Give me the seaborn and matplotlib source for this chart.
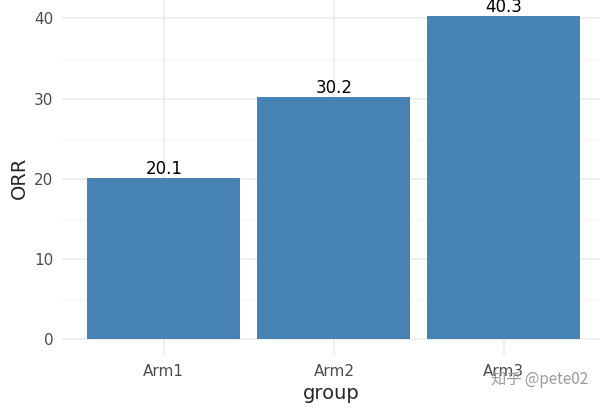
import matplotlib
matplotlib.use("Agg")
import matplotlib.pyplot as plt
import seaborn as sns
import pandas as pd

groups = ["Arm1", "Arm2", "Arm3"]
orr = [20.1, 30.2, 40.3]
df = pd.DataFrame({"group": groups, "ORR": orr})

sns.set_style("white")
plt.rcParams['font.family'] = ['DejaVu Sans', 'Noto Sans CJK SC']
fig = plt.figure(figsize=(6, 4.13), dpi=100)
ax = fig.add_axes([0.103, 0.14, 0.897, 0.86])
sns.barplot(data=df, x="group", y="ORR", color="steelblue", saturation=1, width=0.9,
            ax=ax, zorder=3, linewidth=0)
for i, v in enumerate(orr):
    ax.text(i, v, f"{v}", ha="center", va="bottom", fontsize=12, color="black", zorder=4)
ax.set_xlim(-0.6, 2.565)
ax.set_ylim(-2.0, 42.3)
ax.set_yticks([0, 10, 20, 30, 40])
ax.set_yticks([5, 15, 25, 35], minor=True)
ax.grid(True, which="major", color="#EBEBEB", lw=1.1, zorder=0)
ax.grid(True, which="minor", axis="y", color="#F3F3F3", lw=0.6, zorder=0)
for s in ax.spines.values():
    s.set_visible(False)
ax.tick_params(axis="both", length=0, labelsize=11, labelcolor="#4D4D4D", pad=6)
ax.set_xlabel("group", fontsize=14)
ax.set_ylabel("ORR", fontsize=14)
fig.text(0.98, 0.08, "知乎 @pete02", ha="right", va="center", fontsize=11, color="#9A9A9A",
         family=['Noto Sans CJK SC', 'DejaVu Sans'], zorder=5)
fig.savefig("out.png", dpi=100)
